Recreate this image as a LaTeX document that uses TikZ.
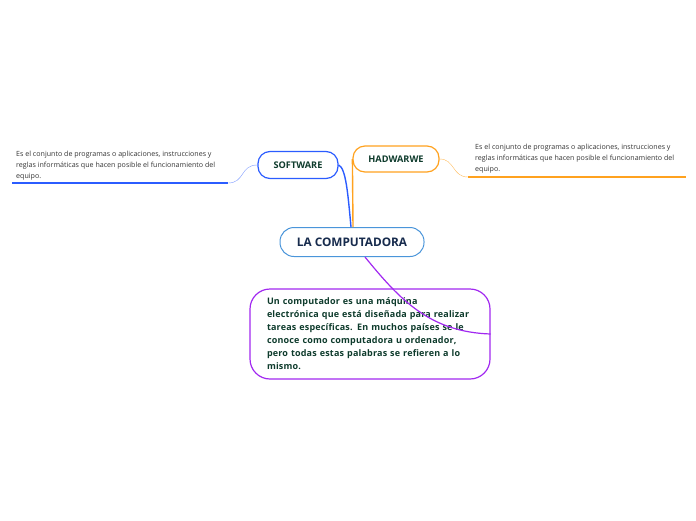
\documentclass[tikz,border=0pt]{standalone}
\usepackage{fontspec}
\setmainfont{Open Sans}
\usetikzlibrary{positioning}

\definecolor{navy}{HTML}{172B4D}
\definecolor{dkgreen}{HTML}{0E3B2C}
\definecolor{softblue}{HTML}{2B5CFF}
\definecolor{hardorange}{HTML}{FFA21F}
\definecolor{descpurple}{HTML}{A128F0}
\definecolor{compblue}{HTML}{4A95DA}
\definecolor{notegray}{HTML}{333333}

\tikzset{
  topic/.style={draw, line width=1.2pt, rounded corners=12pt, fill=white, text=dkgreen,
    font=\bfseries\fontsize{9.2}{11}\selectfont},
  note/.style={text=notegray, align=left, inner sep=0pt,
    font=\fontsize{7.1}{10.8}\selectfont}
}

\begin{document}
\begin{tikzpicture}[x=1pt,y=-1pt]
    \useasboundingbox (0,0) rectangle (696,520);
    % central idea
    \node[draw=compblue, line width=1pt, rounded corners=14pt, fill=white, text=navy,
      minimum width=144, minimum height=29, font=\bfseries\fontsize{11.8}{13}\selectfont]
      (comp) at (352,242) {LA COMPUTADORA};
    \node[topic, draw=softblue, minimum width=80, minimum height=27] (soft) at (298,165) {SOFTWARE};
    \node[topic, draw=hardorange, minimum width=86, minimum height=26] (hard) at (396,159) {HADWARWE};
    \node[topic, draw=descpurple, rounded corners=20pt, minimum width=240, minimum height=90,
      align=left, text width=206, inner xsep=17, fill=none,
      font=\bfseries\fontsize{9}{13}\selectfont\addfontfeature{LetterSpace=2}] (desc) at (370,334)
      {Un computador es una máquina\\
       electrónica que está diseñada para realizar\\
       tareas específicas. En muchos países se le\\
       conoce como computadora u ordenador,\\
       pero todas estas palabras se refieren a lo\\
       mismo.};

    % notes with underlines
    \coordinate (softa) at (12,183);
    \coordinate (softb) at (228,183);
    \coordinate (harda) at (468,177);
    \coordinate (hardb) at (686,177);
    \node[note, anchor=north west] (softtxt) at (16,151)
      {Es el conjunto de programas o aplicaciones, instrucciones y\\
       reglas informáticas que hacen posible el funcionamiento del\\
       equipo.};
    \node[note, anchor=north west] (hardtxt) at (475,144)
      {Es el conjunto de programas o aplicaciones, instrucciones y\\
       reglas informáticas que hacen posible el funcionamiento del\\
       equipo.};
    \draw[softblue, line width=2pt] (softa) -- (softb);
    \draw[hardorange, line width=2pt] (harda) -- (hardb);

    % connectors
    \draw[softblue, line width=1.4pt] ([xshift=-1]comp.north) .. controls (348,195) and (346,168) .. (soft.east);
    \draw[hardorange, line width=1.4pt] ([xshift=1]comp.north) -- (hard.west);
    \draw[softblue!60] (softb) .. controls (245,183) and (240,165) .. (soft.west);
    \draw[hardorange!70] (hard.east) .. controls (455,159) and (452,177) .. (harda);
    \draw[descpurple, line width=1.2pt] ([xshift=13]comp.south) .. controls (400,300) and (430,332) .. (desc.east);
\end{tikzpicture}
\end{document}
